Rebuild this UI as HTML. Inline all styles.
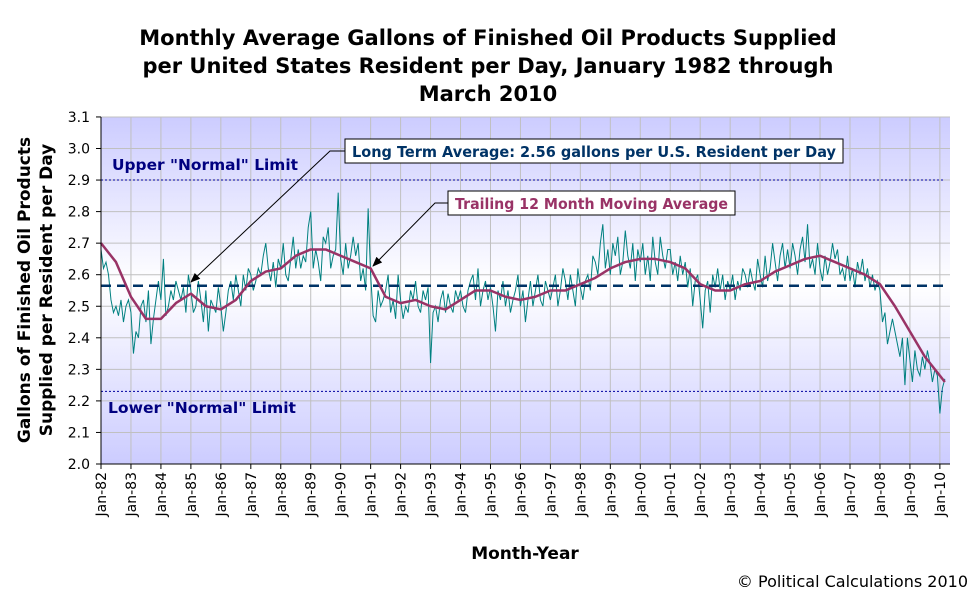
<!DOCTYPE html>
<html><head><meta charset="utf-8"><style>
body{margin:0;background:#fff;width:977px;height:600px;overflow:hidden}
svg text{font-family:"DejaVu Sans","Liberation Sans",sans-serif}
</style></head><body>
<svg id="chart" width="977" height="600">
<defs><linearGradient id="bg" x1="0" y1="0" x2="0" y2="1">
<stop offset="0" stop-color="#ccccff"/><stop offset="0.48" stop-color="#ffffff"/><stop offset="1" stop-color="#ccccff"/></linearGradient>
<marker id="ah" markerWidth="10" markerHeight="8" refX="9" refY="4" orient="auto"><path d="M0,0L10,4L0,8z" fill="#000"/></marker></defs>
<g font-weight="bold" font-size="21" text-anchor="middle" fill="#000">
<text x="488" y="45">Monthly Average Gallons of Finished Oil Products Supplied</text>
<text x="488" y="73">per United States Resident per Day, January 1982 through</text>
<text x="488" y="101">March 2010</text></g>
<rect x="101" y="117" width="849" height="347" fill="url(#bg)"/>
<g id="grid"></g>
<g id="ylab"></g>
<g id="xlab"></g>
<g id="series"></g>
<text x="112" y="170" font-size="15" font-weight="bold" fill="#000080" textLength="186" lengthAdjust="spacingAndGlyphs">Upper "Normal" Limit</text>
<text x="108" y="413" font-size="15" font-weight="bold" fill="#000080" textLength="188" lengthAdjust="spacingAndGlyphs">Lower "Normal" Limit</text>
<g>
<polyline points="345,151 330,151 191,282" fill="none" stroke="#000" stroke-width="1" marker-end="url(#ah)"/>
<rect x="345" y="139" width="498" height="24" fill="#fff" stroke="#000"/>
<text x="352" y="157" font-size="15" font-weight="bold" fill="#003366" textLength="484" lengthAdjust="spacingAndGlyphs">Long Term Average: 2.56 gallons per U.S. Resident per Day</text></g>
<g>
<polyline points="448,203 435,203 373,266" fill="none" stroke="#000" stroke-width="1" marker-end="url(#ah)"/>
<rect x="448" y="191" width="287" height="24" fill="#fff" stroke="#000"/>
<text x="455" y="209" font-size="15" font-weight="bold" fill="#993366" textLength="273" lengthAdjust="spacingAndGlyphs">Trailing 12 Month Moving Average</text></g>
<line x1="101" y1="117" x2="101" y2="464" stroke="#000"/>
<line x1="101" y1="464" x2="950" y2="464" stroke="#000"/>
<g font-weight="bold" font-size="17" text-anchor="middle">
<text transform="translate(30,290) rotate(-90)">Gallons of Finished Oil Products</text>
<text transform="translate(52,290) rotate(-90)">Supplied per Resident per Day</text></g>
<text x="525" y="559" font-size="17" font-weight="bold" text-anchor="middle">Month-Year</text>
<text x="968" y="587" font-size="16" text-anchor="end">© Political Calculations 2010</text>
</svg>
<script>
const yTicks=[2.0,2.1,2.2,2.3,2.4,2.5,2.6,2.7,2.8,2.9,3.0,3.1];
const years=[82,83,84,85,86,87,88,89,90,91,92,93,94,95,96,97,98,99,0,1,2,3,4,5,6,7,8,9,10];
const longTermAverage=2.565, upperLimit=2.9, lowerLimit=2.23;
const monthly=[
2.68,2.62,2.64,2.60,2.52,2.48,2.50,2.47,2.52,2.45,2.50,2.52,
2.48,2.35,2.42,2.40,2.50,2.52,2.45,2.55,2.38,2.46,2.52,2.58,
2.52,2.65,2.47,2.50,2.55,2.52,2.58,2.55,2.52,2.56,2.48,2.60,
2.55,2.48,2.50,2.58,2.52,2.45,2.55,2.42,2.52,2.50,2.48,2.56,
2.50,2.42,2.48,2.55,2.58,2.52,2.60,2.55,2.50,2.60,2.55,2.62,
2.60,2.55,2.58,2.62,2.60,2.66,2.70,2.62,2.58,2.64,2.56,2.65,
2.62,2.70,2.60,2.58,2.65,2.72,2.62,2.68,2.62,2.66,2.64,2.75,
2.80,2.62,2.68,2.64,2.58,2.72,2.70,2.75,2.62,2.66,2.68,2.86,
2.65,2.60,2.70,2.62,2.66,2.72,2.66,2.70,2.58,2.62,2.55,2.81,
2.60,2.47,2.45,2.55,2.50,2.52,2.55,2.60,2.48,2.52,2.46,2.60,
2.52,2.46,2.50,2.48,2.55,2.52,2.58,2.50,2.48,2.55,2.52,2.56,
2.32,2.48,2.50,2.45,2.52,2.55,2.48,2.54,2.50,2.48,2.55,2.52,
2.55,2.50,2.48,2.55,2.58,2.60,2.52,2.62,2.50,2.55,2.58,2.52,
2.56,2.50,2.42,2.55,2.52,2.58,2.50,2.55,2.48,2.52,2.55,2.60,
2.50,2.55,2.45,2.52,2.58,2.50,2.55,2.60,2.52,2.50,2.58,2.55,
2.52,2.56,2.60,2.50,2.55,2.62,2.58,2.52,2.60,2.55,2.50,2.62,
2.56,2.52,2.58,2.60,2.55,2.66,2.64,2.60,2.70,2.76,2.62,2.68,
2.60,2.70,2.66,2.72,2.60,2.64,2.74,2.66,2.62,2.70,2.58,2.68,
2.64,2.70,2.60,2.66,2.58,2.72,2.64,2.60,2.72,2.66,2.62,2.68,
2.68,2.60,2.64,2.58,2.66,2.60,2.64,2.56,2.62,2.50,2.58,2.60,
2.52,2.43,2.55,2.58,2.48,2.60,2.56,2.62,2.55,2.60,2.52,2.58,
2.55,2.60,2.52,2.58,2.55,2.62,2.60,2.56,2.62,2.58,2.55,2.65,
2.60,2.56,2.66,2.58,2.62,2.70,2.64,2.58,2.66,2.70,2.62,2.68,
2.62,2.70,2.66,2.60,2.68,2.72,2.64,2.76,2.62,2.65,2.60,2.70,
2.62,2.58,2.66,2.60,2.64,2.70,2.65,2.68,2.60,2.62,2.58,2.66,
2.58,2.62,2.56,2.64,2.60,2.65,2.58,2.62,2.56,2.60,2.55,2.58,
2.55,2.45,2.48,2.38,2.42,2.46,2.42,2.38,2.34,2.40,2.25,2.40,
2.33,2.26,2.36,2.30,2.28,2.34,2.30,2.36,2.32,2.26,2.30,2.28,
2.16,2.24,2.27];
const maMonths=[0,6,12,18,24,30,36,42,48,54,60,66,72,78,84,90,96,102,108,114,120,126,132,138,144,150,156,162,168,174,180,186,192,198,204,210,216,222,228,234,240,246,252,258,264,270,276,282,288,294,300,306,312,318,324,330,336,338];
const maValues=[2.70,2.64,2.53,2.46,2.46,2.51,2.54,2.50,2.49,2.52,2.58,2.61,2.62,2.66,2.68,2.68,2.66,2.64,2.62,2.53,2.51,2.52,2.50,2.49,2.52,2.55,2.55,2.53,2.52,2.53,2.55,2.55,2.57,2.59,2.62,2.64,2.65,2.65,2.64,2.62,2.57,2.55,2.55,2.57,2.58,2.61,2.63,2.65,2.66,2.64,2.62,2.60,2.57,2.50,2.42,2.34,2.28,2.26];
const X0=101,XS=29.96/12,Y0=464,YS=315.5,NS='http://www.w3.org/2000/svg';
const xs=m=>X0+m*XS, ys=v=>Y0-(v-2)*YS;
function mk(t,a,p){const e=document.createElementNS(NS,t);for(const k in a)e.setAttribute(k,a[k]);p.appendChild(e);return e;}
const grid=document.getElementById('grid'),yl=document.getElementById('ylab'),xl=document.getElementById('xlab'),ser=document.getElementById('series');
yTicks.forEach(v=>{const y=ys(v);
 const g=mk('line',{x1:101,x2:950,y1:y,y2:y,stroke:'#c0c0c0'},grid);
 
 
 mk('line',{x1:96,x2:101,y1:y,y2:y,stroke:'#000'},yl);
 const t=mk('text',{x:90,y:y+5,'font-size':14,'text-anchor':'end'},yl);t.textContent=v.toFixed(1);
 
 });
years.forEach((yr,i)=>{const x=xs(i*12);
 const g=mk('line',{x1:x,x2:x,y1:117,y2:464,stroke:'#c0c0c0'},grid);
 
 
 mk('line',{x1:x,x2:x,y1:464,y2:469,stroke:'#000'},xl);
 const t=mk('text',{transform:`translate(${x+5},472) rotate(-90)`,'font-size':14,'text-anchor':'end'},xl);
 t.textContent='Jan-'+String(yr).padStart(2,'0');
 
 });
[[upperLimit,'upper-limit-line'],[lowerLimit,'lower-limit-line']].forEach(([v,n])=>{
 const l=mk('line',{x1:101,x2:944,y1:ys(v),y2:ys(v),stroke:'#0000a0','stroke-dasharray':'2,2','stroke-width':1},ser);
 
 });
const raw=mk('polyline',{points:monthly.map((v,i)=>xs(i)+','+ys(v)).join(' '),fill:'none',stroke:'#008080','stroke-width':1},ser);


const avg=mk('line',{x1:101,x2:944,y1:ys(longTermAverage),y2:ys(longTermAverage),stroke:'#003366','stroke-width':2.5,'stroke-dasharray':'10,6'},ser);


const ma=mk('polyline',{points:maMonths.map((m,i)=>xs(m)+','+ys(maValues[i])).join(' '),fill:'none',stroke:'#993366','stroke-width':2.5,'stroke-linejoin':'round'},ser);


</script>
</body></html>
